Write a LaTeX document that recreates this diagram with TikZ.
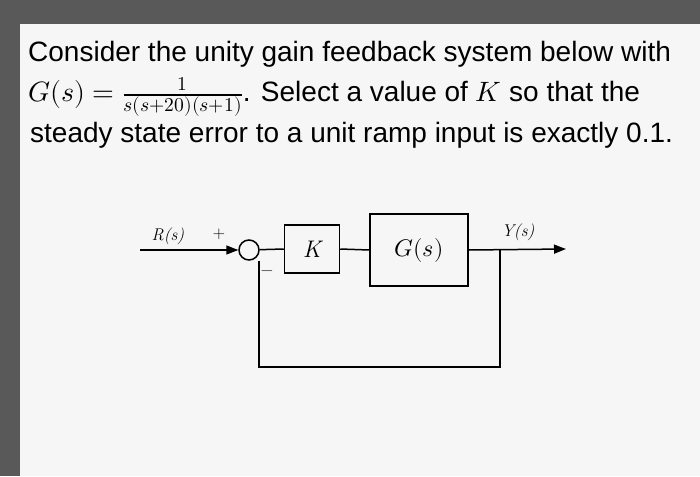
\documentclass[tikz,border=0pt]{standalone}
\usepackage{fontspec}
\setmainfont{Liberation Sans}
\newfontfamily\serf{Latin Modern Roman}
\usepackage{unicode-math}
\setmathfont{Latin Modern Math}
\usetikzlibrary{arrows.meta}
\begin{document}
\begin{tikzpicture}[x=1pt,y=-1pt,
  blk/.style={draw,line width=1.5pt,inner sep=0pt},
  wire/.style={line width=1.5pt},
  arr/.style={wire,-{Triangle[length=12pt,width=9pt]}},
  lbl/.style={font=\fontsize{17}{17}\selectfont\serf\itshape},
  txt/.style={anchor=base west,inner sep=0pt,font=\fontsize{28}{28}\selectfont}]
\useasboundingbox (0,0) rectangle (700,476);
\fill[gray!70!black] (0,0) rectangle (700,476);
\fill[white!93!gray] (20,24) rectangle (700,476);
\node[txt] (l1) at (28,62) {Consider the unity gain feedback system below with};
\node[txt] (l2) at (28,102) {$G(s)=\frac{1}{s(s+20)(s+1)}$. Select a value of $K$ so that the};
\node[txt] (l3) at (30,142) {steady state error to a unit ramp input is exactly 0.1.};
\node[draw,circle,line width=1.5pt,minimum size=20pt,inner sep=0pt] (c) at (249,250) {};
\node[blk,minimum width=55pt,minimum height=48pt,font=\fontsize{24}{24}\selectfont\serf\itshape] (k) at (312,249) {K};
\node[blk,minimum width=98pt,minimum height=72pt,font=\fontsize{24}{24}\selectfont] (g) at (419,250) {$G(s)$};
\coordinate (in) at (140,250);
\coordinate (out) at (566,249);
\coordinate (br) at (500,249);
\coordinate (d1) at (500,367);
\coordinate (d2) at (259,367);
\draw[arr] (in) -- (c);
\draw[wire] (c) -- (k.west);
\draw[wire] (k.east) -- (g.west);
\draw[arr] (g.east) -- (out);
\draw[wire] (br) -- (d1) -- (d2) -- (d2 |- c.south);
\node[lbl] (r) at (168,236) {R(s)};
\node[lbl] (y) at (518,232) {Y(s)};
\node[font=\fontsize{17}{17}\selectfont\serf] (p) at (219,234) {+};
\node[font=\fontsize{17}{17}\selectfont\serf] (m) at (267,273) {−};
\end{tikzpicture}
\end{document}
